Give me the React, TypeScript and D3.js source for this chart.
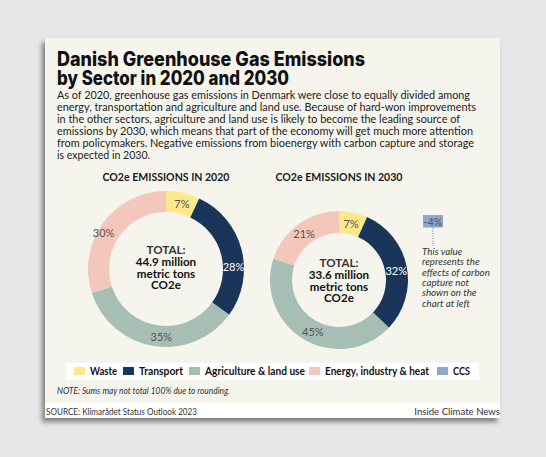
import React from "react";
import * as d3 from "d3";

// ---- data ----
const categories = ["Waste", "Transport", "Agriculture & land use", "Energy, industry & heat"];
const values2020 = [7, 28, 35, 30];
const values2030 = [7, 32, 45, 21];
const ccsValue2030 = -4;
const totals = ["44.9", "33.6"];
const years = ["2020", "2030"];
const legendLabels = ["Waste", "Transport", "Agriculture & land use", "Energy, industry & heat", "CCS"];
const sliceColors = ["#fde98c", "#1b3459", "#a7beb4", "#f4c7bc"];
const ccsColor = "#8ea7cc";

const titleLines = ["Danish Greenhouse Gas Emissions", "by Sector in 2020 and 2030"];
const bodyLines = [
  "As of 2020, greenhouse gas emissions in Denmark were close to equally divided among",
  "energy, transportation and agriculture and land use. Because of hard-won improvements",
  "in the other sectors, agriculture and land use is likely to become the leading source of",
  "emissions by 2030, which means that part of the economy will get much more attention",
  "from policymakers. Negative emissions from bioenergy with carbon capture and storage",
  "is expected in 2030.",
];
const noteLines = [
  "This value",
  "represents the",
  "effects of carbon",
  "capture not",
  "shown on the",
  "chart at left",
];

const W = 546;
const H = 457;
const SANS = "Lato, 'Open Sans', sans-serif";

type DonutProps = {
  values: number[];
  cx: number;
  cy: number;
  outer: number;
  inner: number;
  total: string;
  year: string;
  angleTweak: number[];
  radiusTweak: number[];
  textShift: number;
};

function Donut({ values, cx, cy, outer, inner, total, year, angleTweak, radiusTweak, textShift }: DonutProps) {
  const pie = d3.pie<number>().sort(null).value((d) => d);
  const arcs = pie(values);
  const arc = d3.arc<d3.PieArcDatum<number>>().innerRadius(inner).outerRadius(outer);
  const midR = (inner + outer) / 2;
  return (
    <g>
      <text
        x={cx}
        y={181}
        textAnchor="middle"
        fontFamily={SANS}
        fontWeight={700}
        fontSize={11.2}
        fill="#1a1a1a"
        textLength={127}
        lengthAdjust="spacingAndGlyphs"
      >
        {`CO2e EMISSIONS IN ${year}`}
      </text>
      <g transform={`translate(${cx},${cy})`}>
        {arcs.map((a, i) => (
          <path key={i} d={arc(a) || ""} fill={sliceColors[i]} />
        ))}
        {arcs.map((a, i) => {
          const ang = (a.startAngle + a.endAngle) / 2 + (angleTweak[i] * Math.PI) / 180;
          const r = midR + radiusTweak[i];
          const x = Math.sin(ang) * r;
          const y = -Math.cos(ang) * r;
          return (
            <text
              key={"l" + i}
              x={x}
              y={y}
              textAnchor="middle"
              dominantBaseline="central"
              fontFamily={SANS}
              fontSize={11}
              fill={i === 1 ? "#ffffff" : "#555555"}
            >
              {values[i]}%
            </text>
          );
        })}
        <g fontFamily={SANS} fontWeight={700} fontSize={11.6} textAnchor="middle" fill="#111">
          <text y={-14 + textShift} fill="#333">TOTAL:</text>
          <text y={-2 + textShift}>{total} million</text>
          <text y={9.7 + textShift}>metric tons</text>
          <text y={21.2 + textShift}>CO2e</text>
        </g>
      </g>
    </g>
  );
}

export default function App() {
  const bodyWidths = [413, 419, 403, 416, 417, 93];
  const legendX = [74, 123, 189, 309, 437];
  const legendTextW = [27, 44, 100, 104, 17];
  const legendColors = [...sliceColors, ccsColor];
  return (
    <div style={{ position: "absolute", left: 0, top: 0 }}>
      <svg width={W} height={H} viewBox={`0 0 ${W} ${H}`} style={{ display: "block" }}>
        <defs>
          <filter id="shadow" x="-10%" y="-10%" width="120%" height="120%">
            <feDropShadow dx="-3" dy="4" stdDeviation="2.5" floodColor="#000" floodOpacity="0.45" />
          </filter>
        </defs>
        <rect x={0} y={0} width={W} height={H} fill="#e6e7e9" />
        <rect x={45} y={38} width={455} height={380} fill="#f5f5ed" filter="url(#shadow)" />
        <rect x={45} y={403} width={455} height={15} fill="#ffffff" />

        {/* title */}
        <g fontFamily="Inter, 'Liberation Sans', sans-serif" fontWeight={800} fontSize={19.5} fill="#111">
          <text x={57} y={66} textLength={308} lengthAdjust="spacingAndGlyphs">
            {titleLines[0]}
          </text>
          <text x={57} y={85} textLength={232} lengthAdjust="spacingAndGlyphs">
            {titleLines[1]}
          </text>
        </g>

        {/* body */}
        <g fontFamily={SANS} fontSize={11.3} fill="#222">
          {bodyLines.map((l, i) => (
            <text key={i} x={57} y={99 + i * 12} textLength={bodyWidths[i]} lengthAdjust="spacingAndGlyphs">
              {l}
            </text>
          ))}
        </g>

        <Donut
          values={values2020}
          cx={166}
          cy={269}
          outer={78}
          inner={57}
          total={totals[0]}
          year={years[0]}
          angleTweak={[1, 12.5, -5, -5.5]}
          radiusTweak={[0, 0, 0, 5]}
          textShift={-1}
        />
        <Donut
          values={values2030}
          cx={339}
          cy={280}
          outer={69}
          inner={47}
          total={totals[1]}
          year={years[1]}
          angleTweak={[0, 2, -4, -1]}
          radiusTweak={[0, 0, 0, 0]}
          textShift={1}
        />

        {/* CCS annotation */}
        <rect x={423} y={215} width={20} height={12.5} fill={ccsColor} />
        <text
          x={433}
          y={221.5}
          textAnchor="middle"
          dominantBaseline="central"
          fontFamily={SANS}
          fontSize={10.5}
          fill="#555"
        >
          {ccsValue2030}%
        </text>
        <line x1={433} x2={433} y1={228} y2={246} stroke="#777" strokeWidth={1} strokeDasharray="1,1.5" />
        <g fontFamily={SANS} fontStyle="italic" fontSize={9.8} fill="#333">
          {noteLines.map((l, i) => (
            <text key={i} x={422} y={255 + i * 10.3}>
              {l}
            </text>
          ))}
        </g>

        {/* legend */}
        <rect x={66} y={363} width={413} height={17} fill="#ffffff" />
        {legendLabels.map((l, i) => (
          <g key={i}>
            <rect x={legendX[i]} y={367} width={11} height={8} fill={legendColors[i]} />
            <text
              x={legendX[i] + 16}
              y={374.5}
              fontFamily={SANS}
              fontWeight={700}
              fontSize={10.6}
              fill="#111"
              textLength={legendTextW[i]}
              lengthAdjust="spacingAndGlyphs"
            >
              {l}
            </text>
          </g>
        ))}

        <text
          x={57}
          y={394}
          fontFamily={SANS}
          fontStyle="italic"
          fontSize={9}
          fill="#333"
          textLength={173}
          lengthAdjust="spacingAndGlyphs"
        >
          NOTE: Sums may not total 100% due to rounding.
        </text>
        <text x={46} y={415} fontFamily={SANS} fontSize={9.6} fill="#333" textLength={151} lengthAdjust="spacingAndGlyphs">
          SOURCE: Klimarådet Status Outlook 2023
        </text>
        <text x={500} y={415} textAnchor="end" fontFamily={SANS} fontSize={9.6} fill="#333">
          Inside Climate News
        </text>
      </svg>
    </div>
  );
}
